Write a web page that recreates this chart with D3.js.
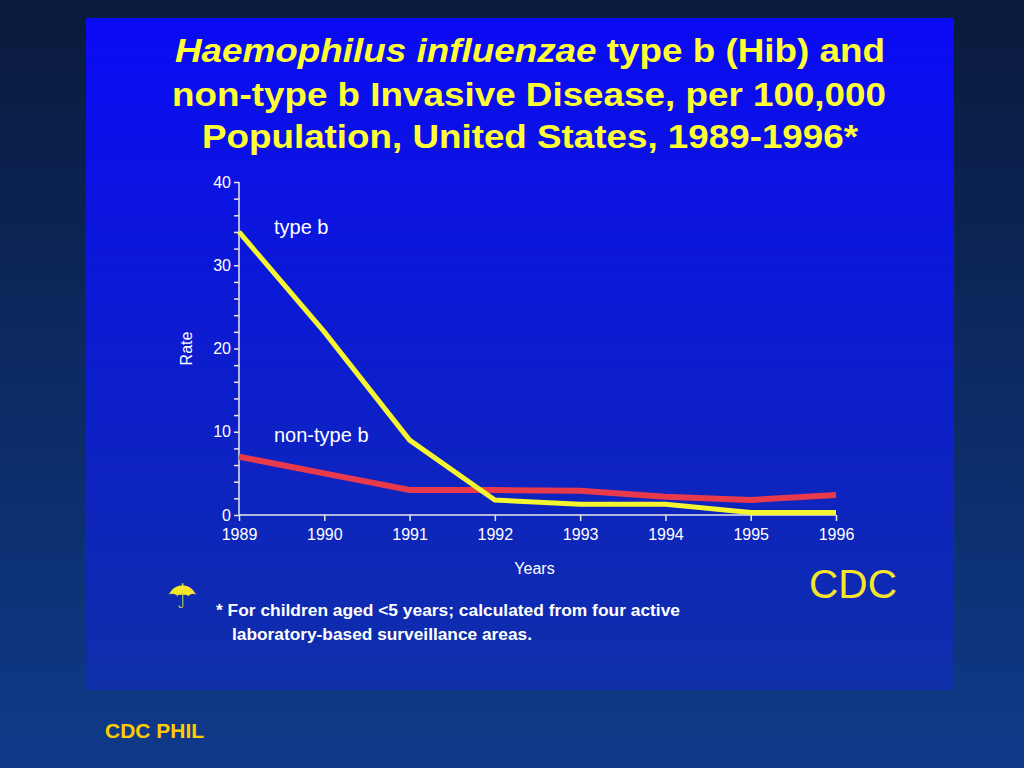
<!DOCTYPE html>
<html><head><meta charset="utf-8">
<script src="https://cdn.jsdelivr.net/npm/d3@7"></script>
<style>body{margin:0;background:#0b1a3e;}svg{display:block;font-family:Arial,"Liberation Sans",sans-serif;}</style>
</head><body><svg id="chart"></svg>
<script>
// Data
const years = ["1989","1990","1991","1992","1993","1994","1995","1996"];
const typeB = [34, 22, 9, 1.8, 1.3, 1.3, 0.3, 0.3];
const nonTypeB = [7, 5, 3, 3, 2.9, 2.2, 1.8, 2.4];
const yTicks = [0, 10, 20, 30, 40];

const svg = d3.select("#chart").attr("width", 1024).attr("height", 768);
const defs = svg.append("defs");

const outer = defs.append("linearGradient").attr("id", "outer").attr("x1", 0).attr("y1", 0).attr("x2", 0).attr("y2", 1);
outer.append("stop").attr("offset", "0%").attr("stop-color", "#0a1a3c");
outer.append("stop").attr("offset", "100%").attr("stop-color", "#0f3a8a");
const slide = defs.append("linearGradient").attr("id", "slide").attr("x1", 0).attr("y1", 0).attr("x2", 0).attr("y2", 1);
slide.append("stop").attr("offset", "0%").attr("stop-color", "#0a0af5");
slide.append("stop").attr("offset", "100%").attr("stop-color", "#0f2fa8");

svg.append("rect").attr("width", 1024).attr("height", 768).attr("fill", "url(#outer)");
svg.append("rect").attr("x", 86).attr("y", 18).attr("width", 868).attr("height", 672).attr("fill", "url(#slide)");

// Title
const title = svg.append("text").attr("fill", "#ffff33").attr("font-weight", "bold").attr("font-size", 33);
const l1 = title.append("tspan").attr("x", 175).attr("y", 62).attr("textLength", 710).attr("lengthAdjust", "spacingAndGlyphs");
l1.append("tspan").attr("font-style", "italic").text("Haemophilus influenzae");
l1.append("tspan").text(" type b (Hib) and");
title.append("tspan").attr("x", 172).attr("y", 106).attr("textLength", 714).attr("lengthAdjust", "spacingAndGlyphs")
  .text("non-type b Invasive Disease, per 100,000");
title.append("tspan").attr("x", 202).attr("y", 148).attr("textLength", 656).attr("lengthAdjust", "spacingAndGlyphs")
  .text("Population, United States, 1989-1996*");

// Chart
const margin = { left: 239, top: 182 };
const width = 836 - 239, height = 515 - 182;
const g = svg.append("g").attr("transform", `translate(${margin.left},${margin.top})`);

const x = d3.scalePoint().domain(years).range([0, width]);
const y = d3.scaleLinear().domain([0, 40]).range([height, 0]);

const xAxis = g.append("g").attr("transform", `translate(0,${height})`)
  .call(d3.axisBottom(x).tickSize(6).tickPadding(8));
const yAxis = g.append("g")
  .call(d3.axisLeft(y).tickValues(d3.range(0, 41, 2)).tickSize(5).tickFormat(d => yTicks.includes(d) ? d : ""));
[xAxis, yAxis].forEach(a => {
  a.selectAll("path,line").attr("stroke", "#e8e8e8").attr("stroke-width", 1.5);
  a.selectAll("text").attr("fill", "#ffffff").attr("font-size", 16).attr("font-family", "Arial, sans-serif");
});
xAxis.select(".domain").attr("d", `M0,0H${width}`);
yAxis.select(".domain").attr("d", `M0,0V${height}`);

const line = d3.line().x((d, i) => x(years[i])).y(d => y(d));
g.append("path").datum(nonTypeB).attr("d", line).attr("fill", "none").attr("stroke", "#e83a4a").attr("stroke-width", 6);
g.append("path").datum(typeB).attr("d", line).attr("fill", "none").attr("stroke", "#f5f530").attr("stroke-width", 5);

g.append("text").attr("x", 35).attr("y", y(33.8)).attr("fill", "#fff").attr("font-size", 20).text("type b");
g.append("text").attr("x", 35).attr("y", y(8.8)).attr("fill", "#fff").attr("font-size", 20).text("non-type b");
g.append("text").attr("transform", `translate(-47,${height / 2})rotate(-90)`).attr("text-anchor", "middle")
  .attr("fill", "#fff").attr("font-size", 16).text("Rate");
g.append("text").attr("x", width / 2 - 3).attr("y", height + 59).attr("text-anchor", "middle")
  .attr("fill", "#fff").attr("font-size", 16).text("Years");

// Footnote
const fn = svg.append("text").attr("fill", "#fff").attr("font-size", 16).attr("font-weight", "bold");
fn.append("tspan").attr("x", 216).attr("y", 616).attr("textLength", 464).attr("lengthAdjust", "spacingAndGlyphs")
  .text("* For children aged <5 years; calculated from four active");
fn.append("tspan").attr("x", 232).attr("y", 640).attr("textLength", 300).attr("lengthAdjust", "spacingAndGlyphs")
  .text("laboratory-based surveillance areas.");

// Logos
svg.append("text").attr("x", 853).attr("y", 598).attr("text-anchor", "middle").attr("fill", "#f5e62a")
  .attr("font-size", 40).attr("textLength", 88).attr("lengthAdjust", "spacingAndGlyphs").text("CDC");
svg.append("text").attr("x", 182).attr("y", 608).attr("text-anchor", "middle").attr("fill", "#f5e62a")
  .attr("font-size", 34).text("☂");

svg.append("text").attr("x", 105).attr("y", 738).attr("fill", "#ffcc00").attr("font-size", 21)
  .attr("font-weight", "bold").text("CDC PHIL");
</script></body></html>
